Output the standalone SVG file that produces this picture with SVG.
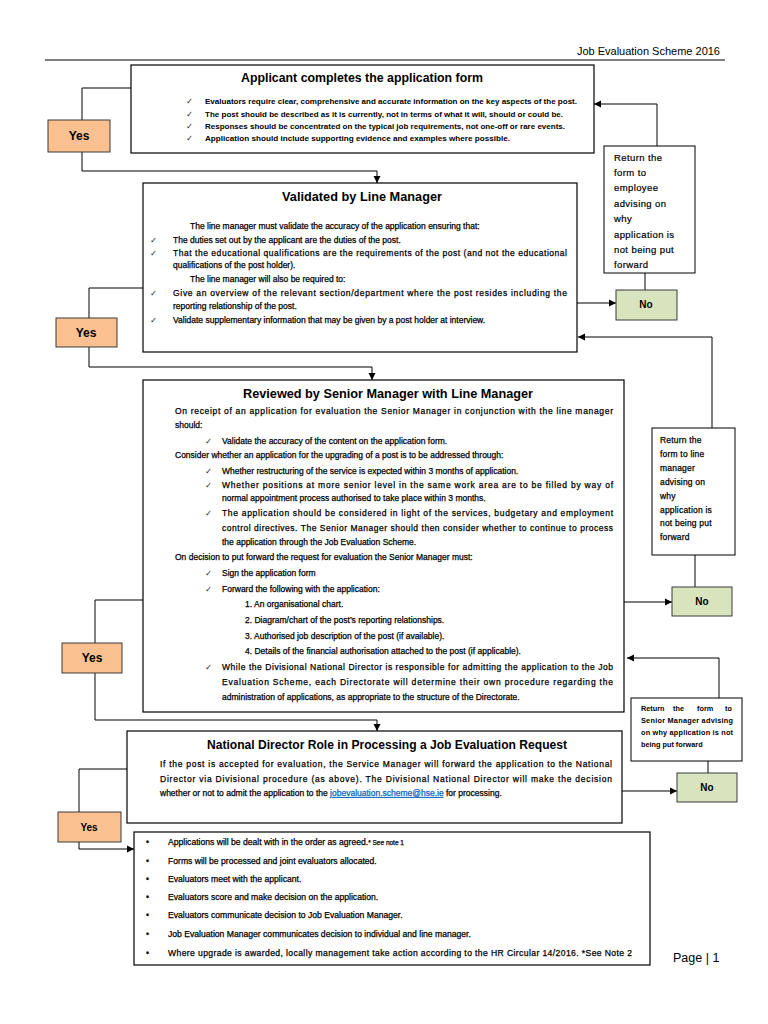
<svg xmlns="http://www.w3.org/2000/svg" width="768" height="1024" viewBox="0 0 768 1024">
<defs>
<marker id="ah" markerUnits="userSpaceOnUse" markerWidth="8" markerHeight="8" refX="7" refY="4" orient="auto"><path d="M0,0.5 L7,4 L0,7.5 z" fill="#000"/></marker>
<style>
.box{fill:#fff;stroke:#000;stroke-width:1.2}
.yes{fill:#FAC090;stroke:#3a3a3a;stroke-width:1}
.no{fill:#D7E4BD;stroke:#3a3a3a;stroke-width:1}
.con{fill:none;stroke:#000;stroke-width:1}
.arr{marker-end:url(#ah)}
text{font-family:"Liberation Sans",Arial,sans-serif;fill:#000}
.ttl{font-size:12.8px;font-weight:bold}
.b1{font-size:7px;font-weight:bold}
.bd{font-size:8.5px;stroke:#000;stroke-width:0.25}
.b5{font-size:8.6px;stroke:#000;stroke-width:0.25}
.chk{font-family:"DejaVu Sans",sans-serif;font-size:8.5px;fill:#333}
.rt1{font-size:9.5px;letter-spacing:0.4px;stroke:#000;stroke-width:0.2}
.rt2{font-size:8.5px;letter-spacing:0.2px;stroke:#000;stroke-width:0.25}
.rt3{font-size:7.3px;font-weight:bold}
.lbl{font-size:12px;font-weight:bold;text-anchor:middle}
.lbn{font-size:10px;font-weight:bold;text-anchor:middle}
</style>
</defs>
<rect width="768" height="1024" fill="#fff"/>
<g id="header">
<text x="720" y="55" font-size="11" text-anchor="end">Job Evaluation Scheme 2016</text>
<line x1="45" y1="60" x2="725" y2="60" stroke="#000" stroke-width="1.2"/>
</g>
<g id="connectors">
<polyline class="con" points="131,88 82,88 82,120"/>
<polyline class="con arr" points="82,152 82,171 377,171 377,183"/>
<polyline class="con arr" points="657,146 657,104 594,104"/>
<line class="con" x1="645" y1="273" x2="645" y2="290"/>
<line class="con arr" x1="577" y1="303" x2="616" y2="303"/>
<polyline class="con" points="143,288 89,288 89,318"/>
<polyline class="con arr" points="89,347 89,367 372,367 372,380"/>
<polyline class="con arr" points="712,428 712,337 578,337"/>
<line class="con" x1="695" y1="555" x2="695" y2="587"/>
<line class="con arr" x1="624" y1="602" x2="672" y2="602"/>
<polyline class="con" points="143,600 95,600 95,643"/>
<polyline class="con arr" points="95,673 95,720 377,720 377,731"/>
<polyline class="con arr" points="719,698 719,658 627,658"/>
<line class="con" x1="708" y1="761" x2="708" y2="773"/>
<line class="con arr" x1="622" y1="791" x2="677" y2="791"/>
<polyline class="con" points="127,769 79,769 79,812"/>
<polyline class="con arr" points="79,842 79,849 134,849"/>
</g>
<g id="box1">
<rect class="box" x="131" y="65" width="463" height="88"/>
<text class="ttl" x="362" y="82" text-anchor="middle" textLength="242" lengthAdjust="spacingAndGlyphs">Applicant completes the application form</text>
<text class="chk" x="186" y="104">✓︎</text><text class="b1" x="205" y="104" textLength="372" lengthAdjust="spacingAndGlyphs">Evaluators require clear, comprehensive and accurate information on the key aspects of the post.</text>
<text class="chk" x="186" y="117">✓︎</text><text class="b1" x="205" y="117" textLength="358" lengthAdjust="spacingAndGlyphs">The post should be described as it is currently, not in terms of what it will, should or could be.</text>
<text class="chk" x="186" y="129">✓︎</text><text class="b1" x="205" y="129" textLength="360" lengthAdjust="spacingAndGlyphs">Responses should be concentrated on the typical job requirements, not one-off or rare events.</text>
<text class="chk" x="186" y="141">✓︎</text><text class="b1" x="205" y="141" textLength="305" lengthAdjust="spacingAndGlyphs">Application should include supporting evidence and examples where possible.</text>
</g>
<g id="yes1"><rect class="yes" x="48" y="120" width="62" height="32"/><text class="lbl" x="79" y="140">Yes</text></g>
<g id="return1">
<rect class="box" x="604" y="146" width="91" height="127" style="stroke-width:1"/>
<text class="rt1" x="614" y="161">Return the</text>
<text class="rt1" x="614" y="176">form to</text>
<text class="rt1" x="614" y="191">employee</text>
<text class="rt1" x="614" y="207">advising on</text>
<text class="rt1" x="614" y="222">why</text>
<text class="rt1" x="614" y="238">application is</text>
<text class="rt1" x="614" y="253">not being put</text>
<text class="rt1" x="614" y="268">forward</text>
</g>
<g id="no1"><rect class="no" x="616" y="290" width="61" height="30"/><text class="lbn" x="646" y="308">No</text></g>
<g id="box2">
<rect class="box" x="143" y="183" width="434" height="169"/>
<text class="ttl" x="362" y="201" text-anchor="middle" textLength="160" lengthAdjust="spacingAndGlyphs">Validated by Line Manager</text>
<text class="bd" x="190" y="229">The line manager must validate the accuracy of the application ensuring that:</text>
<text class="chk" x="150" y="243">✓︎</text><text class="bd" x="173" y="243">The duties set out by the applicant are the duties of the post.</text>
<text class="chk" x="150" y="256">✓︎</text><text class="bd" x="173" y="256" textLength="394" lengthAdjust="spacing">That the educational qualifications are the requirements of the post (and not the educational</text>
<text class="bd" x="173" y="268">qualifications of the post holder).</text>
<text class="bd" x="190" y="282">The line manager will also be required to:</text>
<text class="chk" x="150" y="296">✓︎</text><text class="bd" x="173" y="296" textLength="394" lengthAdjust="spacing">Give an overview of the relevant section/department where the post resides including the</text>
<text class="bd" x="173" y="309">reporting relationship of the post.</text>
<text class="chk" x="150" y="323">✓︎</text><text class="bd" x="173" y="323">Validate supplementary information that may be given by a post holder at interview.</text>
</g>
<g id="yes2"><rect class="yes" x="56" y="318" width="61" height="29"/><text class="lbl" x="86" y="337">Yes</text></g>
<g id="return2">
<rect class="box" x="652" y="428" width="83" height="127" style="stroke-width:1"/>
<text class="rt2" x="660" y="443">Return the</text>
<text class="rt2" x="660" y="457">form to line</text>
<text class="rt2" x="660" y="471">manager</text>
<text class="rt2" x="660" y="485">advising on</text>
<text class="rt2" x="660" y="499">why</text>
<text class="rt2" x="660" y="513">application is</text>
<text class="rt2" x="660" y="526">not being put</text>
<text class="rt2" x="660" y="540">forward</text>
</g>
<g id="no2"><rect class="no" x="672" y="587" width="60" height="29"/><text class="lbn" x="702" y="605">No</text></g>
<g id="box3">
<rect class="box" x="143" y="380" width="481" height="332"/>
<text class="ttl" x="388" y="398" text-anchor="middle" textLength="290" lengthAdjust="spacingAndGlyphs">Reviewed by Senior Manager with Line Manager</text>
<text class="bd" x="175" y="414" textLength="438" lengthAdjust="spacing">On receipt of an application for evaluation the Senior Manager in conjunction with the line manager</text>
<text class="bd" x="175" y="428">should:</text>
<text class="chk" x="205" y="444">✓︎</text><text class="bd" x="222" y="444">Validate the accuracy of the content on the application form.</text>
<text class="bd" x="175" y="458">Consider whether an application for the upgrading of a post is to be addressed through:</text>
<text class="chk" x="205" y="474">✓︎</text><text class="bd" x="222" y="474">Whether restructuring of the service is expected within 3 months of application.</text>
<text class="chk" x="205" y="488">✓︎</text><text class="bd" x="222" y="488" textLength="391" lengthAdjust="spacing">Whether positions at more senior level in the same work area are to be filled by way of</text>
<text class="bd" x="222" y="501">normal appointment process authorised to take place within 3 months.</text>
<text class="chk" x="205" y="516">✓︎</text><text class="bd" x="222" y="516" textLength="391" lengthAdjust="spacing">The application should be considered in light of the services, budgetary and employment</text>
<text class="bd" x="222" y="531" textLength="391" lengthAdjust="spacing">control directives.  The Senior Manager should then consider whether to continue to process</text>
<text class="bd" x="222" y="545">the application through the Job Evaluation Scheme.</text>
<text class="bd" x="175" y="560">On decision to put forward the request for evaluation the Senior Manager must:</text>
<text class="chk" x="205" y="576">✓︎</text><text class="bd" x="222" y="576">Sign the application form</text>
<text class="chk" x="205" y="592">✓︎</text><text class="bd" x="222" y="592">Forward the following with the application:</text>
<text class="bd" x="245" y="607">1. An organisational chart.</text>
<text class="bd" x="245" y="623">2. Diagram/chart of the post’s reporting relationships.</text>
<text class="bd" x="245" y="639">3. Authorised job description of the post (if available).</text>
<text class="bd" x="245" y="654">4. Details of the financial authorisation attached to the post (if applicable).</text>
<text class="chk" x="205" y="670">✓︎</text><text class="bd" x="222" y="670" textLength="391" lengthAdjust="spacing">While the Divisional National Director is responsible for admitting the application to the Job</text>
<text class="bd" x="222" y="685" textLength="391" lengthAdjust="spacing">Evaluation Scheme, each Directorate will determine their own procedure regarding the</text>
<text class="bd" x="222" y="700">administration of applications, as appropriate to the structure of the Directorate.</text>
</g>
<g id="yes3"><rect class="yes" x="62" y="643" width="60" height="30"/><text class="lbl" x="92" y="662">Yes</text></g>
<g id="return3">
<rect class="box" x="631" y="698" width="111" height="63" style="stroke-width:1"/>
<text class="rt3" x="641" y="711">Return</text><text class="rt3" x="673" y="711">the</text><text class="rt3" x="697" y="711">form</text><text class="rt3" x="725" y="711">to</text>
<text class="rt3" x="641" y="723" textLength="92" lengthAdjust="spacing">Senior Manager advising</text>
<text class="rt3" x="641" y="735" textLength="92" lengthAdjust="spacing">on why application is not</text>
<text class="rt3" x="641" y="747">being put forward</text>
</g>
<g id="no3"><rect class="no" x="677" y="773" width="60" height="29"/><text class="lbn" x="707" y="791">No</text></g>
<g id="box4">
<rect class="box" x="127" y="731" width="495" height="92"/>
<text class="ttl" x="387" y="749" text-anchor="middle" textLength="360" lengthAdjust="spacingAndGlyphs">National Director Role in Processing a Job Evaluation Request</text>
<text class="bd" x="160" y="767" textLength="452" lengthAdjust="spacing">If the post is accepted for evaluation, the Service Manager will forward the application to the National</text>
<text class="bd" x="160" y="782" textLength="452" lengthAdjust="spacing">Director via Divisional procedure (as above).    The Divisional National Director will make the decision</text>
<text class="bd" x="160" y="796">whether or not to admit the application to the <tspan fill="#0563C1" stroke="#0563C1" text-decoration="underline">jobevaluation.scheme@hse.ie</tspan>  for processing.</text>
</g>
<g id="yes4"><rect class="yes" x="58" y="812" width="63" height="30"/><text class="lbn" x="89" y="831">Yes</text></g>
<g id="box5">
<rect class="box" x="134" y="832" width="516" height="133"/>
<text class="b5" x="146" y="845">•</text><text class="b5" x="168" y="845">Applications will be dealt with in the order as agreed.<tspan font-size="6.5">* See note 1</tspan></text>
<text class="b5" x="146" y="864">•</text><text class="b5" x="168" y="864">Forms will be processed and joint evaluators allocated.</text>
<text class="b5" x="146" y="882">•</text><text class="b5" x="168" y="882">Evaluators meet with the applicant.</text>
<text class="b5" x="146" y="900">•</text><text class="b5" x="168" y="900">Evaluators score and make decision on the application.</text>
<text class="b5" x="146" y="918">•</text><text class="b5" x="168" y="918">Evaluators communicate decision to Job Evaluation Manager.</text>
<text class="b5" x="146" y="937">•</text><text class="b5" x="168" y="937">Job Evaluation Manager communicates decision to individual and line manager.</text>
<text class="b5" x="146" y="956">•</text><text class="b5" x="168" y="956" textLength="464" lengthAdjust="spacing">Where upgrade is awarded, locally management take action according to the HR Circular 14/2016. *See Note 2</text>
</g>
<g id="footer"><text x="673" y="962" font-size="12.5">Page | 1</text></g>
</svg>
